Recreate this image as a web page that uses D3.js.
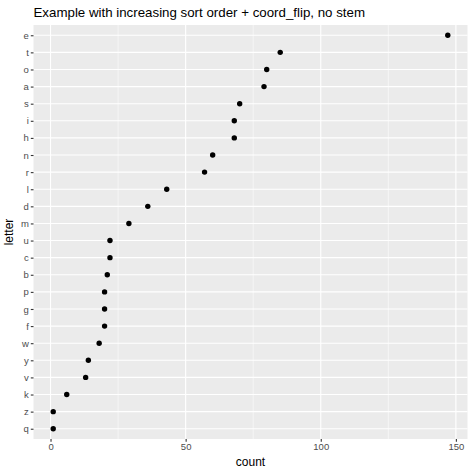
<!DOCTYPE html>
<html>
<head>
<meta charset="utf-8">
<script src="https://cdn.jsdelivr.net/npm/d3@7"></script>
<style>
  body { margin: 0; background: #fff; }
  text { font-family: "Liberation Sans", Arial, sans-serif; }
</style>
</head>
<body>
<script>
// letters, top to bottom as drawn
const letters = ["e", "t", "o", "a", "s", "i", "h", "n", "r", "l", "d", "m",
  "u", "c", "b", "p", "g", "f", "w", "y", "v", "k", "z", "q"];
const counts = [147, 85, 80, 79, 70, 68, 68, 60, 57, 43, 36, 29,
  22, 22, 21, 20, 20, 20, 18, 14, 13, 6, 1, 1];
const xTicks = [0, 50, 100, 150];
const xMinor = [25, 75, 125];

const W = 474, H = 474;
const margin = { top: 25, right: 6.5, bottom: 35, left: 33.5 };

const svg = d3.select("body").append("svg")
  .attr("width", W)
  .attr("height", H);

const lo = d3.min(counts), hi = d3.max(counts);
const pad = (hi - lo) * 0.05;
const x = d3.scaleLinear()
  .domain([lo - pad, hi + pad])
  .range([margin.left, W - margin.right]);

const y = d3.scalePoint()
  .domain(letters)
  .range([margin.top, H - margin.bottom])
  .padding(0.6);

// panel
svg.append("rect")
  .attr("x", margin.left)
  .attr("y", margin.top)
  .attr("width", W - margin.right - margin.left)
  .attr("height", H - margin.bottom - margin.top)
  .attr("fill", "#ebebeb");

const grid = svg.append("g").attr("stroke", "#fff");

grid.selectAll(".minor").data(xMinor).enter().append("line")
  .attr("stroke-width", 0.55)
  .attr("x1", (d) => x(d)).attr("x2", (d) => x(d))
  .attr("y1", margin.top).attr("y2", H - margin.bottom);

grid.selectAll(".major").data(xTicks).enter().append("line")
  .attr("stroke-width", 1.1)
  .attr("x1", (d) => x(d)).attr("x2", (d) => x(d))
  .attr("y1", margin.top).attr("y2", H - margin.bottom);

grid.selectAll(".ygrid").data(letters).enter().append("line")
  .attr("stroke-width", 1.1)
  .attr("x1", margin.left).attr("x2", W - margin.right)
  .attr("y1", (d) => y(d)).attr("y2", (d) => y(d));

// axes
const xAxis = svg.append("g")
  .attr("transform", `translate(0,${H - margin.bottom})`)
  .call(d3.axisBottom(x).tickValues(xTicks).tickSize(2.7).tickPadding(2));
const yAxis = svg.append("g")
  .attr("transform", `translate(${margin.left},0)`)
  .call(d3.axisLeft(y).tickSize(2.7).tickPadding(2));

[xAxis, yAxis].forEach((a) => {
  a.select(".domain").remove();
  a.selectAll(".tick line").attr("stroke", "#333").attr("stroke-width", 1.1);
  a.selectAll(".tick text")
    .attr("fill", "#4d4d4d")
    .style("font-size", "9.5px")
    .style("font-family", "Liberation Sans, Arial, sans-serif");
});

// points
svg.selectAll(".pt").data(letters).enter().append("circle")
  .attr("cx", (d, i) => x(counts[i]))
  .attr("cy", (d) => y(d))
  .attr("r", 2.7)
  .attr("fill", "#000");

// labels
svg.append("text")
  .attr("x", margin.left)
  .attr("y", 17)
  .style("font-size", "13.3px")
  .attr("fill", "#000")
  .text("Example with increasing sort order + coord_flip, no stem");

svg.append("text")
  .attr("x", (margin.left + W - margin.right) / 2)
  .attr("y", 466)
  .attr("text-anchor", "middle")
  .style("font-size", "12px")
  .text("count");

svg.append("text")
  .attr("transform", `translate(13,${(margin.top + H - margin.bottom) / 2}) rotate(-90)`)
  .attr("text-anchor", "middle")
  .style("font-size", "12px")
  .text("letter");
</script>
</body>
</html>
